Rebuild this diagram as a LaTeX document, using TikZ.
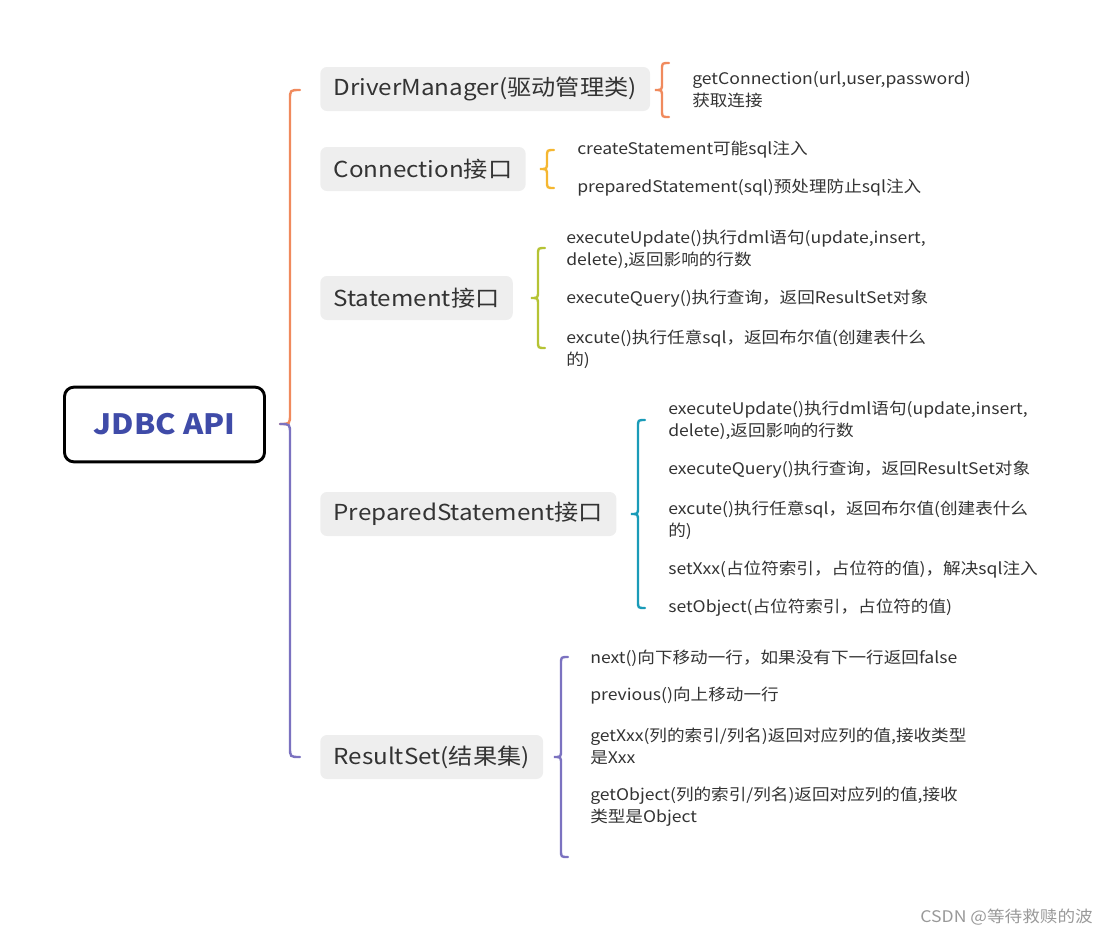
\documentclass[tikz,border=0pt]{standalone}
\usepackage{fontspec}
\setmainfont{Noto Sans CJK SC}[FakeStretch=1.1]
\definecolor{rootblue}{HTML}{3F4BA8}
\definecolor{corange}{HTML}{F08A5D}
\definecolor{cyellow}{HTML}{F5B731}
\definecolor{cgreen}{HTML}{B5C334}
\definecolor{cteal}{HTML}{1A9BB8}
\definecolor{cpurple}{HTML}{7B72C0}
\definecolor{boxgray}{HTML}{EEEEEE}
\definecolor{txt}{HTML}{333333}
\tikzset{
  child/.style={fill=boxgray,rounded corners=5pt,anchor=west,font=\fontsize{16.5pt}{19pt}\selectfont,text=txt,inner xsep=10pt,minimum height=33pt},
  leaf/.style={anchor=west,font=\fontsize{12pt}{16.5pt}\selectfont,text=txt,align=left,inner sep=0pt},
  br/.style={line width=1.8pt,line cap=round}
}
\newcommand{\mybrace}[5]{% color,x,top,bot,mid
  \draw[br,#1] ({#2+7},#3) .. controls (#2,#3) .. ({#2},{#3+7}) -- ({#2},{#5-7}) .. controls (#2,#5) .. ({#2-7},#5) .. controls (#2,#5) .. ({#2},{#5+7}) -- ({#2},{#4-7}) .. controls (#2,#4) .. ({#2+7},#4);}
\begin{document}
\begin{tikzpicture}[x=0.75pt,y=-0.75pt]
\useasboundingbox (0,0) rectangle (1108,936);
\node[draw=black,line width=2.2pt,rounded corners=7pt,minimum width=150pt,minimum height=56pt,text=rootblue,font=\fontsize{21pt}{24pt}\selectfont\bfseries] (root) at (164.5,424.5) {JDBC API};
% main brace
\draw[br,corange] (300,90) .. controls (290,90) .. (290,100) -- (290,414) .. controls (290,424) .. (280,424);
\draw[br,cpurple] (280,424) .. controls (290,424) .. (290,434) -- (290,747) .. controls (290,757) .. (300,757);
\node[child] (dm) at (320,89) {DriverManager(驱动管理类)};
\node[child] (cn) at (320,169) {Connection接口};
\node[child] (st) at (320,298) {Statement接口};
\node[child] (ps) at (320,514) {PreparedStatement接口};
\node[child] (rs) at (320,757) {ResultSet(结果集)};
% DriverManager
\mybrace{corange}{662}{63}{117}{90}
\node[leaf] (dm1) at (692,90) {getConnection(url,user,password)\\获取连接};
% Connection
\mybrace{cyellow}{547}{150}{188}{169}
\node[leaf] (cn1) at (577,150) {createStatement可能sql注入};
\node[leaf] (cn2) at (577,188) {preparedStatement(sql)预处理防止sql注入};
% Statement
\mybrace{cgreen}{538}{248}{348}{298}
\node[leaf] (st1) at (566,249) {executeUpdate()执行dml语句(update,insert,\\delete),返回影响的行数};
\node[leaf] (st2) at (566,299) {executeQuery()执行查询，返回ResultSet对象};
\node[leaf] (st3) at (566,349) {excute()执行任意sql，返回布尔值(创建表什么\\的)};
% PreparedStatement
\mybrace{cteal}{638}{420}{608}{514}
\node[leaf] (ps1) at (668,420) {executeUpdate()执行dml语句(update,insert,\\delete),返回影响的行数};
\node[leaf] (ps2) at (668,470) {executeQuery()执行查询，返回ResultSet对象};
\node[leaf] (ps3) at (668,520) {excute()执行任意sql，返回布尔值(创建表什么\\的)};
\node[leaf] (ps4) at (668,570) {setXxx(占位符索引，占位符的值)，解决sql注入};
\node[leaf] (ps5) at (668,608) {setObject(占位符索引，占位符的值)};
% ResultSet
\mybrace{cpurple}{561}{657}{857}{757}
\node[leaf] (rs1) at (590,658) {next()向下移动一行，如果没有下一行返回false};
\node[leaf] (rs2) at (590,696) {previous()向上移动一行};
\node[leaf] (rs3) at (590,746) {getXxx(列的索引/列名)返回对应列的值,接收类型\\是Xxx};
\node[leaf] (rs4) at (590,807) {getObject(列的索引/列名)返回对应列的值,接收\\类型是Object};
\node[anchor=east,text=gray!80,font=\fontsize{12pt}{14pt}\selectfont,inner sep=0pt] (wm) at (1093,917) {CSDN @等待救赎的波};
\end{tikzpicture}
\end{document}
